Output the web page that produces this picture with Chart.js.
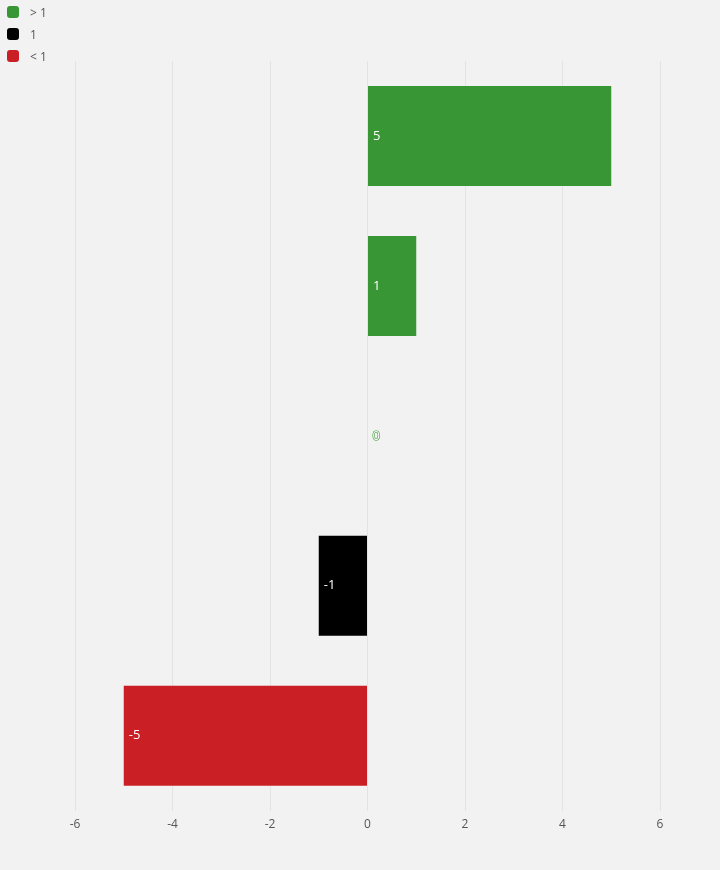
<!DOCTYPE html>
<html>
<head>
<meta charset="utf-8">
<script src="https://cdn.jsdelivr.net/npm/chart.js@4/dist/chart.umd.min.js"></script>
<style>
  html, body { margin: 0; padding: 0; background: #f2f2f2; }
  #wrap { position: relative; width: 720px; height: 870px; }
  #legend { position: absolute; left: 7px; top: 1px; font: 12px "Open Sans", sans-serif; color: #555; }
  #legend div { height: 22px; display: flex; align-items: center; }
  #legend span.box { width: 12px; height: 12px; border-radius: 3px; margin-right: 11px; display: inline-block; }
</style>
</head>
<body>
<div id="wrap">
  <canvas id="barChart" width="720" height="870"></canvas>
  <div id="legend"></div>
</div>
<script>
// categories and values
const categories = ['a', 'b', 'c', 'd', 'e'];
const greaterVals = [5, 1, 0, null, null];
const oneVals = [null, null, null, -1, null];
const lessVals = [null, null, null, null, -5];
const seriesNames = ['> 1', '1', '< 1'];
const seriesColors = ['#389634', '#000000', '#cb1f26'];

// html legend, stacked vertically in the top-left corner
const legendEl = document.getElementById('legend');
seriesNames.forEach((name, i) => {
    const row = document.createElement('div');
    row.innerHTML = '<span class="box" style="background:' + seriesColors[i] + '"></span>' + name;
    legendEl.appendChild(row);
});

// write each value just inside the bar, from its left end
const valueLabels = {
    id: 'valueLabels',
    afterDatasetsDraw(chart) {
        const ctx = chart.ctx;
        ctx.save();
        ctx.font = '13px "Open Sans", sans-serif';
        ctx.textBaseline = 'middle';
        ctx.textAlign = 'left';
        chart.data.datasets.forEach((ds, di) => {
            chart.getDatasetMeta(di).data.forEach((bar, i) => {
                const v = ds.data[i];
                if (v === null) return;
                const left = Math.min(bar.x, bar.base) + 5;
                if (v === 0) {
                    ctx.lineWidth = 1.2;
                    ctx.strokeStyle = ds.backgroundColor;
                    ctx.fillStyle = '#ffffff';
                    ctx.strokeText(String(v), left, bar.y);
                    ctx.fillText(String(v), left, bar.y);
                } else {
                    ctx.fillStyle = '#ffffff';
                    ctx.fillText(String(v), left, bar.y);
                }
            });
        });
        ctx.restore();
    }
};

const ctx = document.getElementById('barChart').getContext('2d');

const data = {
    labels: categories,
    datasets: [
        { label: seriesNames[0], data: greaterVals, backgroundColor: seriesColors[0] },
        { label: seriesNames[1], data: oneVals, backgroundColor: seriesColors[1] },
        { label: seriesNames[2], data: lessVals, backgroundColor: seriesColors[2] },
    ],
};

const options = {
    indexAxis: 'y',
    responsive: false,
    animation: false,
    layout: { padding: { left: 75, right: 60, top: 61, bottom: 31 } },
    datasets: { bar: { barPercentage: 1, categoryPercentage: 0.667 } },
    plugins: {
        legend: { display: false },
        tooltip: { enabled: false },
    },
    scales: {
        x: {
            stacked: true,
            min: -6,
            max: 6,
            ticks: { stepSize: 2, color: '#555', padding: 7, font: { family: '"Open Sans", sans-serif', size: 12 } },
            grid: { color: 'rgba(0,0,0,0.06)', drawTicks: false },
            border: { display: false },
        },
        y: {
            stacked: true,
            display: false,
        },
    },
};

new Chart(ctx, {
    type: 'bar',
    data,
    options,
    plugins: [valueLabels],
});
</script>
</body>
</html>
